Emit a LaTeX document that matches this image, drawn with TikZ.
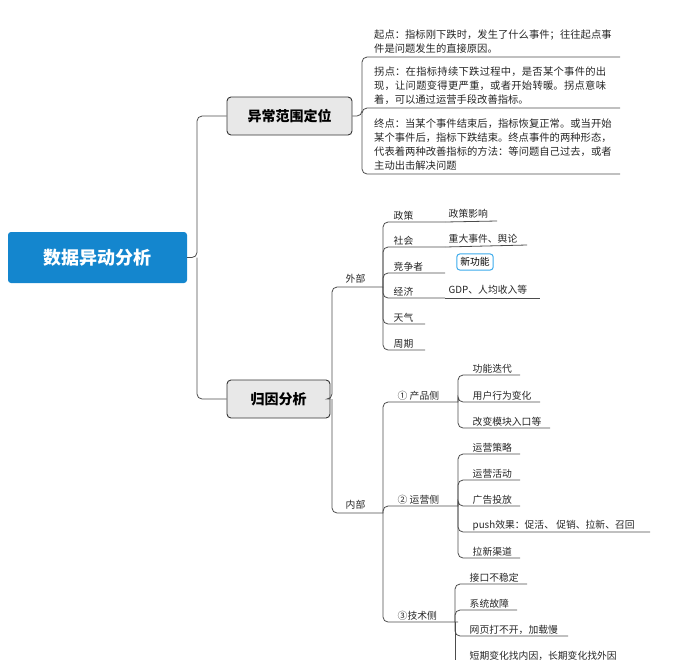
\documentclass[tikz,border=0pt]{standalone}
\usepackage{fontspec}
\setmainfont{Noto Sans CJK SC}
\XeTeXlinebreaklocale "zh"
\XeTeXlinebreakskip=0pt plus 1pt
\begin{document}
\begin{tikzpicture}[x=1pt,y=-1pt,
  ln/.style={draw=black!70,line width=0.8pt,rounded corners=5pt},
  txt/.style={anchor=south west,inner sep=1.5pt,font=\fontsize{9.8}{13}\selectfont,text=black!85},
  ptxt/.style={anchor=south west,inner sep=2pt,font=\fontsize{10.3}{14}\selectfont,text=black!85,text width=238pt,align=left},
  mid/.style={draw=black!80,fill=black!9,rounded corners=4pt,line width=0.9pt,font=\fontsize{14}{16}\selectfont\bfseries,inner sep=0pt}]
\useasboundingbox (0,0) rectangle (676,670);
\node[fill={rgb,255:red,20;green,134;blue,206},rounded corners=3pt,minimum width=179pt,minimum height=51pt,text=white,font=\fontsize{18}{20}\selectfont\bfseries] (root) at (97.5,257.5) {数据异动分析};
\node[mid,minimum width=125pt,minimum height=38pt] (a) at (289.5,116) {异常范围定位};
\node[mid,minimum width=103pt,minimum height=38pt] (b) at (278.5,399) {归因分析};
\draw[ln] (root.east) -- (197,257.5) |- (a.west);
\draw[ln] (197,257.5) |- (b.west);
% range items
\node[ptxt] (a1) at (372,56) {起点：指标刚下跌时，发生了什么事件；往往起点事件是问题发生的直接原因。};
\node[ptxt] (a2) at (372,107) {拐点：在指标持续下跌过程中，是否某个事件的出现，让问题变得更严重，或者开始转暖。拐点意味着，可以通过运营手段改善指标。};
\node[ptxt] (a3) at (372,173) {终点：当某个事件结束后，指标恢复正常。或当开始某个事件后，指标下跌结束。终点事件的两种形态，代表着两种改善指标的方法：等问题自己过去，或者主动出击解决问题};
\draw[ln] (a.east) -- (362,116) |- (620,57);
\draw[ln] (362,116) |- (620,108);
\draw[ln] (362,116) |- (620,174);
% external / internal
\node[txt] (ext) at (344,285) {外部};
\node[txt] (int) at (344,511) {内部};
\draw[ln] (b.east) -- (332,399) |- (383,287);
\draw[ln] (332,399) |- (383,513);
\foreach \n/\y/\t/\e in {e1/222/政策/445,e2/247/社会/445,e3/273/竞争者/445,e4/298/经济/445,e5/324/天气/425,e6/350/周期/425}{
  \node[txt] (\n) at (392,\y) {\t};
  \draw[ln] (383,287) |- (\e,\y);
}
\node[txt] (e1b) at (447,220) {政策影响};
\draw[ln] (445,222) -- (497,221);
\node[txt] (e2b) at (447,245) {重大事件、舆论};
\draw[ln] (445,247) -- (527,245);
\node[draw={rgb,255:red,60;green,170;blue,235},line width=1pt,rounded corners=3pt,inner sep=3.5pt,font=\fontsize{9.8}{11}\selectfont] (e3b) at (475,262) {新功能};
\node[txt] (e4b) at (447,296) {GDP、人均收入等};
\draw[ln] (445,298) -- (540,298);
% internal
\foreach \n/\y/\t/\lx in {p/402/① 产品侧/396,o/506/② 运营侧/396,t/622/③技术侧/396}{
  \node[txt] (\n) at (\lx,\y) {\t};
  \draw[ln] (383,513) |- (458,\y);
}
\foreach \n/\y/\t/\e in {p1/375/功能迭代/520,p2/402/用户行为变化/540,p3/428/改变模块入口等/550}{
  \node[txt] (\n) at (471,\y) {\t};
  \draw[ln] (458,402) |- (\e,\y);
}
\foreach \n/\y/\t/\e in {o1/454/运营策略/520,o2/480/运营活动/520,o3/506/广告投放/520,o4/532/push效果：促活、 促销、拉新、召回/650,o5/558/拉新渠道/520}{
  \node[txt] (\n) at (471,\y) {\t};
  \draw[ln] (458,506) |- (\e,\y);
}
\foreach \n/\y/\t/\e in {t1/584/接口不稳定/527,t2/610/系统故障/517,t3/636/网页打不开，加载慢/568}{
  \node[txt] (\n) at (468,\y) {\t};
  \draw[ln] (455,622) |- (\e,\y);
}
\node[txt] (t4) at (468,662) {短期变化找内因，长期变化找外因};
\draw[ln] (455,622) -- (455,660);
\end{tikzpicture}
\end{document}
